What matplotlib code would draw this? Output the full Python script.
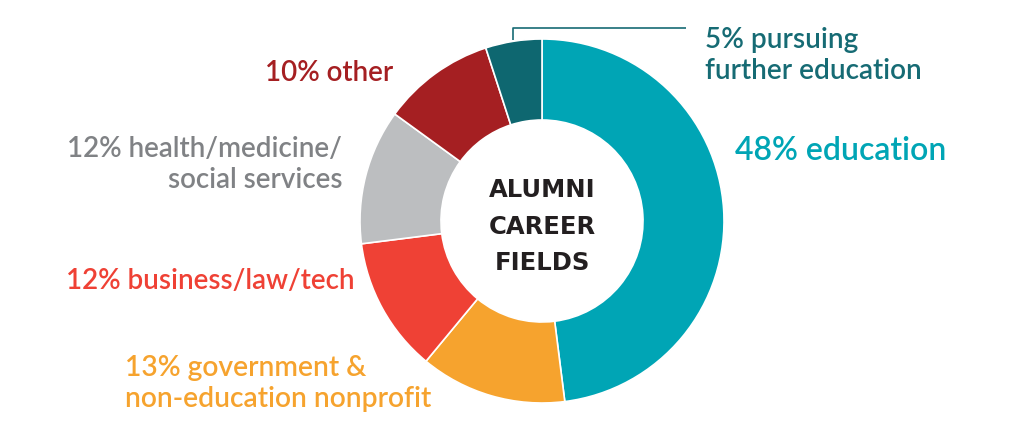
import matplotlib
matplotlib.use("Agg")
import matplotlib.pyplot as plt

# chart data
fields = ["education", "government & non-education nonprofit", "business/law/tech",
          "health/medicine/social services", "other", "pursuing further education"]
shares = [48, 13, 12, 12, 10, 5]
colors = ["#00A5B5", "#F6A32E", "#EF4135", "#BCBEC0", "#A51F22", "#0E6770"]
label_colors = ["#00A5B5", "#F6A32E", "#EF4135", "#808285", "#A51F22", "#166B74"]
labels = [
    "48% education",
    "13% government &\nnon-education nonprofit",
    "12% business/law/tech",
    "12% health/medicine/\nsocial services",
    "10% other",
    "5% pursuing\nfurther education",
]

W, H = 1024, 426

fig = plt.figure(figsize=(W / 100, H / 100), dpi=100)
ax = fig.add_axes([0, 0, 1, 1])

cx, cy, r = 542, H - 221, 182
ax.pie(shares, colors=colors, startangle=90, counterclock=False,
       center=(cx, cy), radius=r, frame=True,
       wedgeprops=dict(width=r * 0.445, edgecolor="white", linewidth=1.2))
ax.set_xlim(0, W)
ax.set_ylim(0, H)
ax.set_aspect("equal")
ax.axis("off")

def y(py):
    return H - py

font = "Lato"
# (x, baseline of first line, ha, size)
placements = [
    (735, 160, "left", 23),
    (125, 376, "left", 20.3),
    (355, 289, "right", 20),
    (342, 157, "right", 20),
    (393, 81, "right", 20),
    (705, 48, "left", 20.2),
]
for lab, col, (px, py, ha, fs) in zip(labels, label_colors, placements):
    lines = lab.split("\n")
    for i, line in enumerate(lines):
        ax.text(px, y(py + i * 31), line, ha=ha, va="baseline", color=col,
                fontsize=fs, family=font, fontweight="semibold")

# leader line for the small slice
ax.plot([513, 513, 686], [y(40), y(28), y(28)], color="#166B74", lw=1.2,
        solid_capstyle="butt")

for i, word in enumerate(["ALUMNI", "CAREER", "FIELDS"]):
    ax.text(cx, y(197 + i * 36.5), word, ha="center", va="baseline",
            color="#231F20", fontsize=17.5, family="DejaVu Sans", fontweight="bold")

fig.savefig("out.png", dpi=100)
